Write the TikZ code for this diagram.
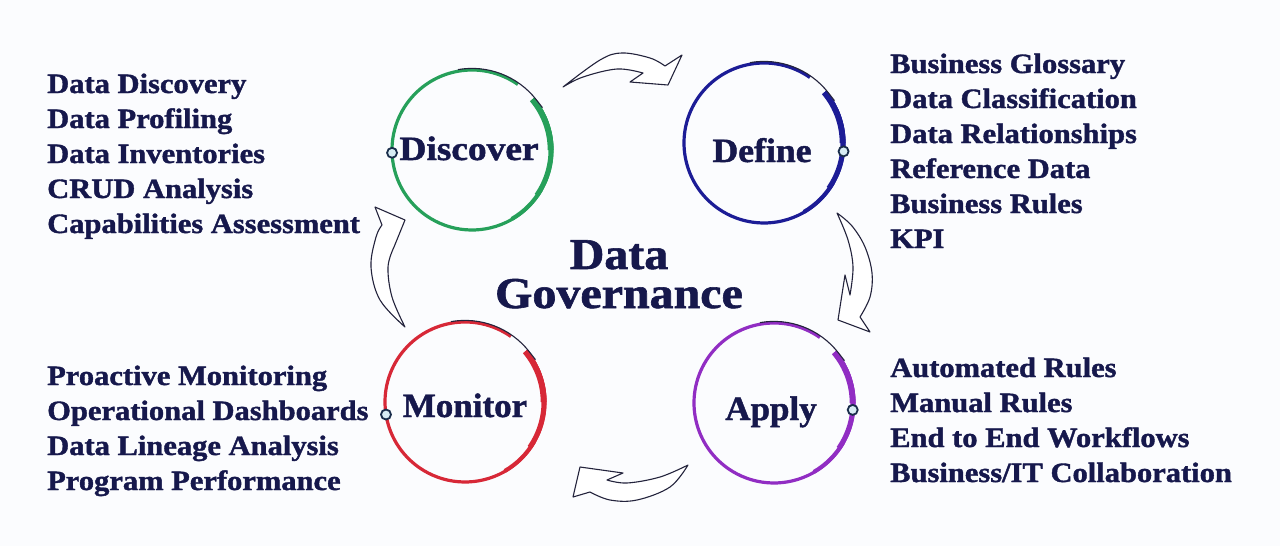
\documentclass[tikz,border=0pt]{standalone}
\usepackage{fontspec}
\usepackage{graphicx}
\setmainfont{Liberation Serif}
\newfontfamily\heavyfont[FakeBold=1.3]{Liberation Serif Bold}
\definecolor{ink}{RGB}{22,24,76}
\definecolor{bg}{RGB}{251,252,254}
\definecolor{cgreen}{RGB}{38,160,90}
\definecolor{cblue}{RGB}{28,28,150}
\definecolor{cred}{RGB}{215,40,55}
\definecolor{cpurple}{RGB}{145,45,195}
\definecolor{darkline}{RGB}{35,35,60}
\definecolor{dotfill}{RGB}{215,236,244}
\definecolor{dotline}{RGB}{25,45,75}
\tikzset{
  lbl/.style={anchor=base, inner sep=0pt, text=ink, font=\fontsize{34}{40}\selectfont\heavyfont},
  lst/.style={anchor=base west, inner sep=0pt, text=ink, font=\fontsize{28}{35}\selectfont\heavyfont},
  ttl/.style={anchor=base, inner sep=0pt, text=ink, font=\fontsize{44}{33}\selectfont\heavyfont},
  ringdot/.style={circle, draw=dotline, fill=dotfill, line width=1.8pt, minimum size=10pt, inner sep=0pt},
  arrowline/.style={draw=darkline, line width=1.1pt, line join=round, fill=white},
}
\newcommand\ringcyc[2]{%
  \draw[#2, line width=3.2pt] ([shift={(55:80pt)}]#1) arc[start angle=55, end angle=330, radius=80pt];
  \draw[#2, line width=4pt] ([shift={(-60:79.6pt)}]#1) arc[start angle=-60, end angle=40, radius=79.6pt];
  \draw[#2, line width=5pt] ([shift={(-35:79pt)}]#1) arc[start angle=-35, end angle=40, radius=79pt];
  \draw[#2, line width=5.8pt] ([shift={(0:78.6pt)}]#1) arc[start angle=0, end angle=40, radius=78.6pt];
  \draw[darkline, line width=1.1pt] ([shift={(100:81.6pt)}]#1) arc[start angle=100, end angle=38, radius=81.6pt] -- ++(-52:10pt);
}
\begin{document}
\begin{tikzpicture}[x=1pt, y=-1pt]
\useasboundingbox[fill=bg] (0,0) rectangle (1280,546);

% centres
\coordinate (cdisc) at (472,150);
\coordinate (cdef) at (764,143);
\coordinate (cmon) at (465,402);
\coordinate (capp) at (774,403);

\ringcyc{cdisc}{cgreen}
\ringcyc{cdef}{cblue}
\ringcyc{cmon}{cred}
\ringcyc{capp}{cpurple}

\node[ringdot] (ddisc) at ([shift={(182:80pt)}]cdisc) {};
\node[ringdot] (ddef) at ([shift={(-6:80pt)}]cdef) {};
\node[ringdot] (dmon) at ([shift={(189:80pt)}]cmon) {};
\node[ringdot] (dapp) at ([shift={(-5:79pt)}]capp) {};

\node[lbl] (ldisc) at (469,160) {\scalebox{1.1}[1]{Discover}};
\node[lbl] (ldef) at (762,162) {\scalebox{1.05}[1]{Define}};
\node[lbl] (lmon) at (465,417) {\scalebox{1.03}[1]{Monitor}};
\node[lbl] (lapp) at (771,420) {\scalebox{1.03}[1]{Apply}};

\node[ttl] (title) at (619,308) {\scalebox{1.09}[1]{\begin{tabular}[b]{@{}c@{}}Data\\Governance\end{tabular}}};

\node[lst] (ldiscl) at (47,93) {\scalebox{1.09}[1]{\begin{tabular}[t]{@{}l@{}}Data Discovery\\Data Profiling\\Data Inventories\\CRUD Analysis\\Capabilities Assessment\end{tabular}}};
\node[lst] (ldefl) at (890,73) {\scalebox{1.09}[1]{\begin{tabular}[t]{@{}l@{}}Business Glossary\\Data Classification\\Data Relationships\\Reference Data\\Business Rules\\KPI\end{tabular}}};
\node[lst] (lmonl) at (47,385) {\scalebox{1.09}[1]{\begin{tabular}[t]{@{}l@{}}Proactive Monitoring\\Operational Dashboards\\Data Lineage Analysis\\Program Performance\end{tabular}}};
\node[lst] (lappl) at (890,377) {\scalebox{1.09}[1]{\begin{tabular}[t]{@{}l@{}}Automated Rules\\Manual Rules\\End to End Workflows\\Business/IT Collaboration\end{tabular}}};

% hand-drawn cycle arrows
\draw[arrowline] plot[smooth, tension=0.6] coordinates {(563,87) (600,60) (622,53) (650,58) (665,66)} -- (682,55) -- (668,85) -- (630,82) -- (643,73) -- plot[smooth, tension=0.6] coordinates {(643,73) (617,69) (583,77) (563,87)} -- cycle;
\draw[arrowline] plot[smooth, tension=0.6] coordinates {(837,213) (852,226) (865,247) (872,273) (870,297) (860,317)} -- (870,332) -- (838,320) -- (845,275) -- (850,295) -- plot[smooth, tension=0.6] coordinates {(850,295) (853,267) (848,240) (837,213)} -- cycle;
\draw[arrowline] plot[smooth, tension=0.6] coordinates {(688,465) (670,487) (637,500) (610,500) (590,492)} -- (573,497) -- (580,467) -- (623,473) -- (607,480) -- plot[smooth, tension=0.6] coordinates {(607,480) (627,483) (660,477) (688,465)} -- cycle;
\draw[arrowline] plot[smooth, tension=0.6] coordinates {(405,327) (380,300) (371,267) (376,237) (382,225)} -- (375,207) -- (405,220) -- (394,247) -- plot[smooth, tension=0.6] coordinates {(394,247) (388,267) (392,297) (405,327)} -- cycle;
\end{tikzpicture}
\end{document}
